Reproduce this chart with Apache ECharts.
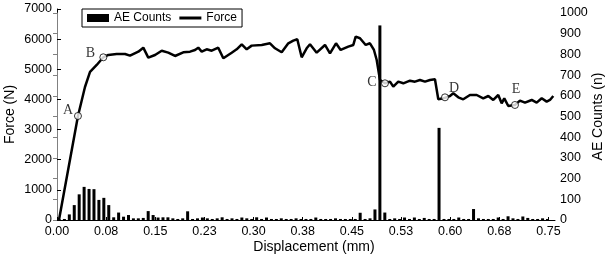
<!DOCTYPE html>
<html><head><meta charset="utf-8">
<script src="https://cdn.jsdelivr.net/npm/echarts@6/dist/echarts.min.js"></script>
<style>html,body{margin:0;padding:0;background:#fff}#c{width:605px;height:259px}</style>
</head><body><div id="c"></div>
<script>
// ---- data ----
var xTickLabels = ['0.00','0.08','0.15','0.23','0.30','0.38','0.45','0.53','0.60','0.68','0.75'];
var xTickStep = 0.075;
var xMax = 0.76;
var forceX = [0.003,0.032,0.0427,0.0504,0.0606,0.0707,0.0783,0.0911,0.1038,0.1114,0.1241,0.1317,0.1393,0.1496,0.1598,0.1698,0.1801,0.1927,0.203,0.2106,0.2156,0.2208,0.2284,0.2361,0.2461,0.2538,0.2666,0.2742,0.2819,0.2895,0.2971,0.3124,0.325,0.3327,0.3429,0.353,0.3606,0.3667,0.3734,0.381,0.3861,0.3963,0.409,0.4166,0.4258,0.4329,0.4445,0.4522,0.4558,0.4624,0.4711,0.4776,0.4837,0.4879,0.4929,0.5005,0.5082,0.5132,0.5208,0.5285,0.5387,0.5463,0.5539,0.5616,0.5692,0.5768,0.5819,0.5895,0.5921,0.5997,0.6048,0.6124,0.62,0.6302,0.6405,0.6505,0.6582,0.6658,0.6734,0.6786,0.6826,0.6887,0.6989,0.7065,0.7142,0.7244,0.732,0.7397,0.7473,0.7523,0.7574];
var forceY = [0,3451,4413,4911,5143,5398,5475,5508,5508,5452,5585,5717,5385,5475,5617,5551,5441,5564,5585,5641,5717,5585,5663,5617,5717,5365,5551,5663,5830,5663,5785,5807,5863,5697,5564,5863,5950,5995,5398,5697,5830,5551,5807,5531,5863,5641,5752,5807,6082,6029,5807,5863,5641,5309,4645,4535,4589,4424,4589,4535,4622,4589,4645,4589,4645,4668,4004,4037,4070,4114,4203,4070,4004,4147,4147,4037,4114,3982,4147,3871,4037,3783,3816,3960,3893,3982,3893,4037,3926,3982,4114];
var markerNames = ['A','B','C','D','E'];
var markerX = [0.032,0.0707,0.5005,0.5921,0.6989];
var markerY = [3451,5398,4535,4070,3816];
var binWidth = 0.007523;
var aeCounts = [3,5,27,72,124,160,150,149,97,107,72,13,36,16,24,8,8,10,43,24,12,13,13,8,5,8,42,5,8,12,8,5,8,13,5,8,5,12,8,5,13,5,12,5,5,8,5,5,8,5,5,5,12,5,5,5,8,5,5,5,5,35,5,8,51,940,36,5,8,5,12,5,12,5,10,5,5,445,5,5,5,12,5,5,53,8,5,5,5,12,5,18,8,5,17,10,5,5,8,5];

// ---- build ----
var barData = aeCounts.map(function(c,i){ return [(i+0.5)*binWidth, c]; });
var lineData = forceX.map(function(x,i){ return [x, forceY[i]]; });
var labelOffsets = [[-10,-6],[-13,-4],[-13,-1],[9,-9],[1,-16]];
var markerData = markerNames.map(function(n,i){
  return {value:[markerX[i], markerY[i]], name:n, label:{offset:labelOffsets[i]}};
});
var sans = 'Liberation Sans';
var chart = echarts.init(document.getElementById('c'), null, {renderer:'canvas'});
chart.setOption({
  animation:false,
  backgroundColor:'#fff',
  grid:[{left:57,right:50,top:9,height:211,outerBoundsMode:'none',containLabel:false},
        {left:57,right:50,top:13,height:207,outerBoundsMode:'none',containLabel:false}],
  legend:{left:82,top:9,borderColor:'#000',borderWidth:1,padding:[3,5,3,5],itemGap:8,itemWidth:22,itemHeight:8,
    textStyle:{fontFamily:sans,fontSize:12,color:'#000'},
    data:[{name:'AE Counts',icon:'rect',itemStyle:{color:'#000'}},
          {name:'Force',icon:'path://M0,0 L22,0 L22,3 L0,3 Z',itemStyle:{color:'#000'}}]},
  xAxis:[{gridIndex:0,type:'value',min:0,max:xMax,interval:xTickStep,
    name:'Displacement (mm)',nameLocation:'middle',nameGap:20,nameMoveOverlap:false,
    nameTextStyle:{fontFamily:sans,fontSize:14,color:'#000',padding:[0,0,0,16]},
    axisLine:{lineStyle:{color:'#000',width:1}},
    axisTick:{inside:true,length:3,lineStyle:{color:'#000'}},
    splitLine:{show:false},
    axisLabel:{fontFamily:sans,fontSize:12.5,color:'#000',margin:5,showMaxLabel:false,
      formatter:function(v){var i=Math.round(v/xTickStep);return (Math.abs(v-i*xTickStep)<1e-6&&i<xTickLabels.length)?xTickLabels[i]:'';}}},
   {gridIndex:1,type:'value',min:0,max:xMax,show:false,splitLine:{show:false}}],
  yAxis:[{gridIndex:0,type:'value',min:0,max:7000,interval:1000,position:'left',
    name:'Force (N)',nameLocation:'middle',nameGap:40,nameRotate:90,nameMoveOverlap:false,
    nameTextStyle:{fontFamily:sans,fontSize:14,color:'#000'},
    axisLine:{show:true,lineStyle:{color:'#000',width:1}},
    axisTick:{show:true,inside:true,length:4,lineStyle:{color:'#000'}},
    splitLine:{show:false},
    axisLabel:{fontFamily:sans,fontSize:12.5,color:'#000',margin:5,formatter:function(v){return String(v);}}},
   {gridIndex:1,type:'value',min:0,max:1000,interval:100,position:'right',
    name:'AE Counts (n)',nameLocation:'middle',nameGap:36,nameRotate:90,nameMoveOverlap:false,
    nameTextStyle:{fontFamily:sans,fontSize:14,color:'#000'},
    axisLine:{show:true,lineStyle:{color:'#808080',width:1}},
    axisTick:{show:true,inside:true,length:4,lineStyle:{color:'#808080'}},
    splitLine:{show:false},
    axisLabel:{fontFamily:sans,fontSize:12.5,color:'#000',margin:5,formatter:function(v){return String(v);}}}],
  series:[
    {name:'AE Counts',type:'custom',xAxisIndex:1,yAxisIndex:1,data:barData,
      itemStyle:{color:'#000'},
      renderItem:function(params, api){
        var x = api.value(0), c = api.value(1);
        var p0 = api.coord([x, 0]), p1 = api.coord([x, c]);
        return {type:'rect', shape:{x:p0[0]-1.5, y:p1[1], width:3, height:p0[1]-p1[1]}, style:{fill:'#000'}};
      }},
    {name:'Force',type:'line',xAxisIndex:0,yAxisIndex:0,data:lineData,symbol:'none',
      lineStyle:{color:'#000',width:2.5},itemStyle:{color:'#000'},z:3},
    {name:'markers',type:'scatter',xAxisIndex:0,yAxisIndex:0,data:markerData,symbol:'circle',symbolSize:7,
      itemStyle:{color:'#fff',borderColor:'#000',borderWidth:1},z:4,
      label:{show:true,position:'inside',formatter:'{b}',fontFamily:'Liberation Serif',fontSize:14,color:'#000'}}
  ]
});
</script>
</body></html>
